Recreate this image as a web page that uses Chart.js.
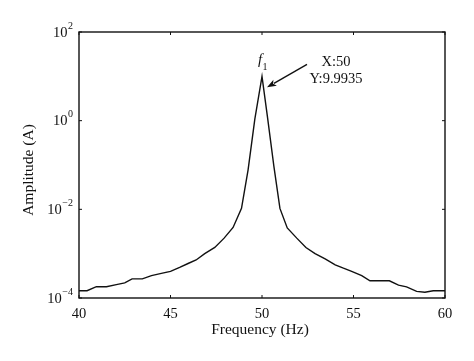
<!DOCTYPE html>
<html>
<head>
<meta charset="utf-8">
<script src="https://cdn.jsdelivr.net/npm/chart.js@4.4.0/dist/chart.umd.min.js"></script>
<style>
  html, body { margin: 0; padding: 0; background: #fff; }
  #wrap { width: 474px; height: 361px; }
</style>
</head>
<body>
<div id="wrap"><canvas id="spectrum"></canvas></div>
<script>
// frequency (Hz) and amplitude (A)
const freqs = [40, 40.44, 40.95, 41.5, 42.04, 42.5, 42.9, 43.46, 43.96, 44.5, 45,
  45.5, 45.96, 46.4, 46.87, 47.42, 47.93, 48.42, 48.88, 49.24, 49.61, 50,
  50.3, 50.65, 50.98, 51.38, 51.9, 52.4, 52.9, 53.45, 54, 54.45, 54.9,
  55.45, 55.9, 56.46, 56.96, 57.46, 57.9, 58.45, 58.9, 59.36, 60];
const amps = [1.46e-4, 1.46e-4, 1.8e-4, 1.8e-4, 2.0e-4, 2.2e-4, 2.7e-4, 2.7e-4, 3.2e-4, 3.6e-4, 4.0e-4,
  4.9e-4, 6.0e-4, 7.2e-4, 1.0e-3, 1.38e-3, 2.24e-3, 3.9e-3, 1.05e-2, 7.8e-2, 1.1, 9.9935,
  1.2, 9.3e-2, 1.05e-2, 3.8e-3, 2.24e-3, 1.38e-3, 1.0e-3, 7.6e-4, 5.6e-4, 4.7e-4, 4.0e-4,
  3.2e-4, 2.45e-4, 2.45e-4, 2.45e-4, 1.95e-4, 1.78e-4, 1.41e-4, 1.35e-4, 1.46e-4, 1.46e-4];
const xTicks = [40, 45, 50, 55, 60];
const yExponents = [-4, -2, 0, 2];

const serif = '"Liberation Serif", "DejaVu Serif", serif';
const ink = '#111';

const framePlugin = {
  id: 'frame',
  afterDraw(chart) {
    const ctx = chart.ctx;
    const a = chart.chartArea;
    const xs = chart.scales.x, ys = chart.scales.y;
    ctx.save();
    ctx.strokeStyle = ink;
    ctx.lineWidth = 1.4;
    ctx.strokeRect(a.left, a.top, a.right - a.left, a.bottom - a.top);

    // inward ticks
    ctx.lineWidth = 1;
    ctx.beginPath();
    xTicks.forEach(v => {
      const px = xs.getPixelForValue(v);
      ctx.moveTo(px, a.bottom); ctx.lineTo(px, a.bottom - 3);
      ctx.moveTo(px, a.top); ctx.lineTo(px, a.top + 3);
    });
    yExponents.forEach(e => {
      const py = ys.getPixelForValue(Math.pow(10, e));
      ctx.moveTo(a.left, py); ctx.lineTo(a.left + 3, py);
      ctx.moveTo(a.right, py); ctx.lineTo(a.right - 3, py);
    });
    ctx.stroke();

    ctx.fillStyle = ink;
    // x tick labels
    ctx.font = '14.5px ' + serif;
    ctx.textAlign = 'center';
    ctx.textBaseline = 'middle';
    xTicks.forEach(v => ctx.fillText(String(v), xs.getPixelForValue(v), a.bottom + 16));

    // y tick labels 10^e
    yExponents.forEach(e => {
      const py = ys.getPixelForValue(Math.pow(10, e));
      const sup = e < 0 ? '\u2212' + Math.abs(e) : String(e);
      ctx.font = '10px ' + serif;
      ctx.textAlign = 'right';
      ctx.fillText(sup, a.left - 6, py - 6);
      const w = ctx.measureText(sup).width;
      ctx.font = '14.5px ' + serif;
      ctx.fillText('10', a.left - 6 - w - 0.5, py + 1);
    });

    // axis titles
    ctx.font = '15.5px ' + serif;
    ctx.textAlign = 'center';
    ctx.fillText('Frequency (Hz)', (a.left + a.right) / 2 - 2, a.bottom + 32);
    ctx.save();
    ctx.translate(29, (a.top + a.bottom) / 2 + 5);
    ctx.rotate(-Math.PI / 2);
    ctx.fillText('Amplitude (A)', 0, 0);
    ctx.restore();

    // peak annotation
    const peakX = xs.getPixelForValue(50);
    const peakY = ys.getPixelForValue(9.9935);
    ctx.font = 'italic 15px ' + serif;
    ctx.fillText('f', peakX - 2, peakY - 16);
    ctx.font = '10px ' + serif;
    ctx.fillText('1', peakX + 3, peakY - 9);
    ctx.font = '14.5px ' + serif;
    ctx.fillText('X:50', peakX + 74, peakY - 14);
    ctx.fillText('Y:9.9935', peakX + 74, peakY + 3);

    // arrow
    const tipX = peakX + 5, tipY = peakY + 11;
    const tailX = peakX + 45, tailY = peakY - 12;
    const ang = Math.atan2(tipY - tailY, tipX - tailX);
    ctx.lineWidth = 1.4;
    ctx.beginPath();
    ctx.moveTo(tailX, tailY);
    ctx.lineTo(tipX + 8 * Math.cos(ang + Math.PI), tipY + 8 * Math.sin(ang + Math.PI));
    ctx.stroke();
    ctx.beginPath();
    ctx.moveTo(tipX, tipY);
    ctx.lineTo(tipX - 10 * Math.cos(ang - 0.35), tipY - 10 * Math.sin(ang - 0.35));
    ctx.lineTo(tipX - 7 * Math.cos(ang), tipY - 7 * Math.sin(ang));
    ctx.lineTo(tipX - 10 * Math.cos(ang + 0.35), tipY - 10 * Math.sin(ang + 0.35));
    ctx.closePath();
    ctx.fill();
    ctx.restore();
  }
};

new Chart(document.getElementById('spectrum'), {
  type: 'line',
  data: {
    datasets: [{
      data: freqs.map((f, i) => ({ x: f, y: amps[i] })),
      borderColor: ink,
      borderWidth: 1.4,
      pointRadius: 0,
      tension: 0,
      fill: false,
    }],
  },
  options: {
    responsive: true,
    maintainAspectRatio: false,
    animation: false,
    events: [],
    layout: { padding: { top: 32, right: 29, left: 0, bottom: 0 } },
    plugins: { legend: { display: false }, tooltip: { enabled: false } },
    scales: {
      x: {
        type: 'linear',
        min: 40,
        max: 60,
        grid: { display: false },
        border: { display: false },
        ticks: { display: false },
        afterFit: (s) => { s.height = 63; },
      },
      y: {
        type: 'logarithmic',
        min: 1e-4,
        max: 1e2,
        grid: { display: false },
        border: { display: false },
        ticks: { display: false },
        afterBuildTicks: (s) => { s.ticks = yExponents.map(e => ({ value: Math.pow(10, e) })); },
        afterFit: (s) => { s.width = 79; },
      },
    },
  },
  plugins: [framePlugin],
});
</script>
</body>
</html>
